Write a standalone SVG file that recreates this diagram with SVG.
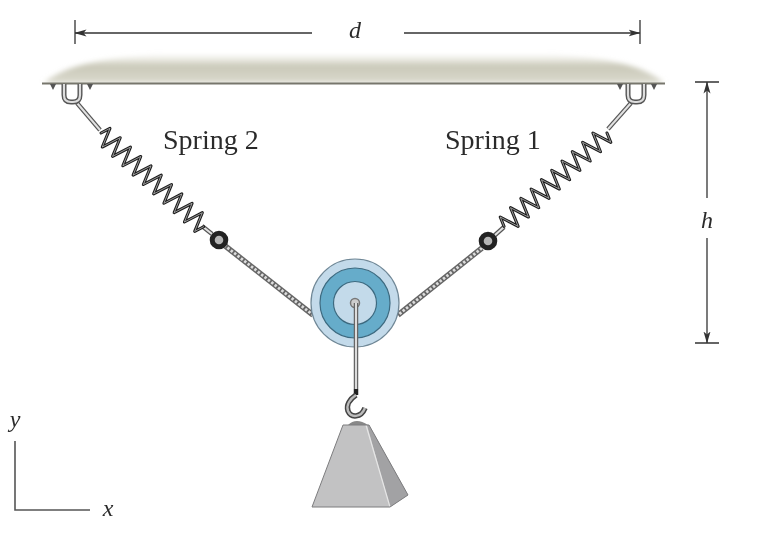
<svg xmlns="http://www.w3.org/2000/svg" xmlns:xlink="http://www.w3.org/1999/xlink" width="766" height="538" viewBox="0 0 766 538">
<style>
text{font-family:"Liberation Serif","Times New Roman",serif;fill:#2b2b2b}
.lab{font-size:28px}
.it{font-size:24px;font-style:italic}
.dim{stroke:#333;stroke-width:1.3;fill:none}
.axis{stroke:#555;stroke-width:1.6;fill:none}
.coilD{fill:none;stroke:#1c1c1c;stroke-width:3;stroke-linejoin:round;stroke-linecap:round}
.coilL{fill:none;stroke:#c4c4c4;stroke-width:0.700;stroke-linejoin:round;stroke-linecap:round}
.rodD{fill:none;stroke:#555;stroke-width:4.4}
.rodL{fill:none;stroke:#e2e2e2;stroke-width:2}
.ropeD{fill:none;stroke:#666;stroke-width:5.500}
.ropeL{fill:none;stroke:#dcdcdc;stroke-width:2.800;stroke-dasharray:2.500 1.800}
.u{fill:none;stroke:#555;stroke-width:5}
.uL{fill:none;stroke:#ddd;stroke-width:2.2}
</style>
<defs>
<linearGradient id="ceil" x1="0" y1="0" x2="0" y2="1">
<stop offset="0" stop-color="#e6e5da" stop-opacity="0.3"/>
<stop offset="0.4" stop-color="#c9c8b8"/>
<stop offset="1" stop-color="#dbdace"/>
</linearGradient>
<filter id="soft" filterUnits="userSpaceOnUse" x="0" y="0" width="766" height="538"><feGaussianBlur stdDeviation="0.6"/></filter>
<filter id="softT" x="-20%" y="-20%" width="140%" height="140%"><feGaussianBlur stdDeviation="0.35"/></filter>
<filter id="softer" filterUnits="userSpaceOnUse" x="0" y="30" width="766" height="80"><feGaussianBlur stdDeviation="2.500"/></filter>
<marker id="ah" viewBox="0 0 12 8" refX="11.5" refY="4" markerWidth="12" markerHeight="8" markerUnits="userSpaceOnUse" orient="auto-start-reverse"><path d="M0 0.5L12 4L0 7.500L3 4Z" fill="#333"/></marker>
<path id="zig" d="M0 0l3.475-9.500l6.950 19l6.950-19l6.950 19l6.950-19l6.950 19l6.950-19l6.950 19l6.950-19l6.950 19l6.950-19l6.950 19l6.950-19l6.950 19l6.950-19l6.950 19l6.950-19l6.950 19l6.950-19l6.950 19l3.475-9.500"/>
<g id="ring"><circle r="6.800" fill="#b5b5b5" stroke="#222" stroke-width="5"/></g>
</defs>

<g id="ceiling">
<path d="M44 83C60 68 100 56 165 55H545C610 56 648 68 664 83Z" fill="url(#ceil)" filter="url(#softer)"/>
<path d="M30 83H680V92H30Z" fill="#fff"/>
<path d="M42 83.500H665" stroke="#77766c" stroke-width="1.800" fill="none"/>
<path d="M50 84l3 6l3-6ZM87 84l3 6l3-6ZM617 84l3 6l3-6ZM651 84l3 6l3-6Z" fill="#555"/>
</g>

<g id="connectors" filter="url(#soft)">
<path class="ropeD" d="M224 245L313 315"/><path class="ropeL" d="M224 245L313 315"/>
<path class="ropeD" d="M482 248L398 315"/><path class="ropeL" d="M482 248L398 315"/>
<path class="rodD" d="M77 103L100 130"/><path class="rodL" d="M77 103L100 130"/>
<path class="rodD" d="M631 103L608 129"/><path class="rodL" d="M631 103L608 129"/>
<path class="rodD" d="M202 226L212 234"/><path class="rodL" d="M202 226L212 234"/>
<path class="rodD" d="M504 227L494 236"/><path class="rodL" d="M504 227L494 236"/>
</g>

<g id="anchor-left" filter="url(#soft)">
<path class="u" d="M64 84V95Q64 102 71 102H73Q80 102 80 95V84"/><path class="uL" d="M64 84V95Q64 102 71 102H73Q80 102 80 95V84"/>
</g>
<g id="anchor-right" filter="url(#soft)">
<path class="u" d="M628 84V95Q628 102 635 102H637Q644 102 644 95V84"/><path class="uL" d="M628 84V95Q628 102 635 102H637Q644 102 644 95V84"/>
</g>

<g id="spring-2" filter="url(#soft)">
<g transform="translate(101 133) rotate(42.400)"><use xlink:href="#zig" href="#zig" class="coilD"/><use xlink:href="#zig" href="#zig" class="coilL"/></g>
</g>
<g id="spring-1" filter="url(#soft)">
<g transform="translate(607 133) rotate(137.800)"><use xlink:href="#zig" href="#zig" class="coilD"/><use xlink:href="#zig" href="#zig" class="coilL"/></g>
</g>
<g id="ring-2" filter="url(#soft)"><use xlink:href="#ring" href="#ring" x="219" y="240"/></g>
<g id="ring-1" filter="url(#soft)"><use xlink:href="#ring" href="#ring" x="488" y="241"/></g>

<g id="pulley" filter="url(#soft)">
<circle cx="355" cy="303" r="44" fill="#c3daea" stroke="#6f8796" stroke-width="1.200"/>
<circle cx="355" cy="303" r="35" fill="#66acca" stroke="#3d6a80" stroke-width="1.200"/>
<circle cx="355" cy="303" r="21.500" fill="#c3daea" stroke="#3d6a80" stroke-width="1.200"/>
<circle cx="355" cy="303" r="4.500" fill="#ccc" stroke="#777" stroke-width="1.500"/>
<path d="M356 303V389" stroke="#666" stroke-width="4.500" fill="none"/>
<path d="M356 303V389" stroke="#dcdcdc" stroke-width="2" fill="none"/>
</g>

<g id="hook" filter="url(#soft)">
<path d="M356 389V395" stroke="#222" stroke-width="4.500" fill="none"/>
<path d="M356 395C350 399 346 405 348 411C351 418 361 418 365 408" fill="none" stroke="#444" stroke-width="5.500"/>
<path d="M356 395C350 399 346 405 348 411C351 418 361 418 365 408" fill="none" stroke="#bbb" stroke-width="2.400"/>
<path d="M348 425Q356 417 368 425Z" fill="#888"/>
</g>

<g id="weight" filter="url(#soft)">
<path d="M343 425H369L408 495L390 507H312Z" fill="#c2c2c3"/>
<path d="M369 425L408 495L390 507L367 425Z" fill="#a2a2a4"/>
<path d="M366 425L390 507" stroke="#e6e6e6" stroke-width="1.200" fill="none"/>
<path d="M343 425H369L408 495L390 507H312Z" fill="none" stroke="#7c7c7e" stroke-width="1"/>
</g>

<g id="dimension-d">
<path class="dim" d="M75 33H312" marker-start="url(#ah)"/>
<path class="dim" d="M404 33H640" marker-end="url(#ah)"/>
<path class="dim" d="M75 20V44M640 20V44"/>
<text class="it" x="355" y="38" text-anchor="middle" filter="url(#softT)">d</text>
</g>
<g id="dimension-h">
<path class="dim" d="M707 82V198" marker-start="url(#ah)"/>
<path class="dim" d="M707 238V343" marker-end="url(#ah)"/>
<path class="dim" d="M695 82H719M695 343H719"/>
<text class="it" x="707" y="228" text-anchor="middle" filter="url(#softT)">h</text>
</g>

<g id="label-spring-2"><text class="lab" x="163" y="149" filter="url(#softT)">Spring 2</text></g>
<g id="label-spring-1"><text class="lab" x="445" y="149" filter="url(#softT)">Spring 1</text></g>

<g id="axes">
<path class="axis" d="M15 441V510H90"/>
<text class="it" x="15" y="427" text-anchor="middle" filter="url(#softT)">y</text>
<text class="it" x="108" y="516" text-anchor="middle" filter="url(#softT)">x</text>
</g>
</svg>
